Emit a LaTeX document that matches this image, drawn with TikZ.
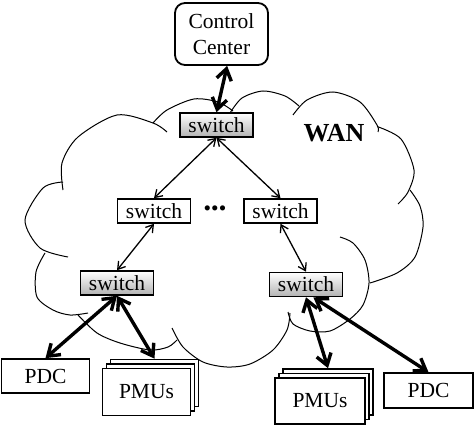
\documentclass[tikz,border=0pt]{standalone}
\usepackage{fontspec}
\setmainfont{Liberation Serif}
\usepackage{tikz}
\usetikzlibrary{arrows.meta,positioning,calc}
\tikzset{
  thinlink/.style={{Straight Barb[length=7pt,width=9pt]}-{Straight Barb[length=7pt,width=9pt]}, line width=1.3pt},
  thicklink/.style={{Straight Barb[length=11pt,width=15pt]}-{Straight Barb[length=11pt,width=15pt]}, line width=3.4pt},
  cloudline/.style={line width=1pt, draw=black},
  switchbox/.style={draw=black, line width=1.6pt, fill=white, inner sep=0pt,
    minimum width=73pt, minimum height=24pt, font=\fontsize{21.5}{24}\selectfont},
  coreswitch/.style={switchbox, top color=white, bottom color=black!30},
  endbox/.style={draw=black, line width=1.7pt, fill=white, inner sep=0pt,
    minimum width=88pt, minimum height=34pt, font=\fontsize{21.5}{24}\selectfont},
  pmubox/.style={endbox, minimum height=47pt},
  centerbox/.style={draw=black, line width=1.8pt, fill=white, rounded corners=10pt,
    align=center, inner sep=0pt, minimum width=93pt, minimum height=62pt,
    font=\fontsize{21.5}{26}\selectfont}
}

\begin{document}
\begin{tikzpicture}[x=1pt, y=-1pt]
    \useasboundingbox (0,0) rectangle (474,428);

    % WAN cloud
    \draw[cloudline] plot[smooth] coordinates {(153,123) (167,110) (194,99) (218,102) (233,111)};
    \draw[cloudline] plot[smooth] coordinates {(230,113) (242,98) (263,91) (285,96) (299,106)};
    \draw[cloudline] plot[smooth] coordinates {(293,115) (307,100) (333,92) (360,102) (377,125) (378,132)};
    \draw[cloudline] plot[smooth] coordinates {(377.6,126.7) (401,139) (414,170) (408,192) (398,204)};
    \draw[cloudline] plot[smooth] coordinates {(410,190) (420,206) (423,227) (415,257) (397,273) (370,283)};
    \draw[cloudline] plot[smooth] coordinates {(340,237) (353,243) (365,260) (369,283) (363,305) (350,319) (330,331) (310,331) (293,324) (288,312)};
    \draw[cloudline] plot[smooth] coordinates {(290,313) (287,330) (273,350) (250,364) (227,367) (203,362) (183,347) (172,328)};
    \draw[cloudline] plot[smooth] coordinates {(78,315) (97,333) (120,343) (150,350) (168,347) (177,340)};
    \draw[cloudline] plot[smooth] coordinates {(45,253) (36,272) (37,297) (53,310) (70,315) (88,313)};
    \draw[cloudline] plot[smooth] coordinates {(63,182) (43,188) (25,220) (40,248) (68,257)};
    \draw[cloudline] plot[smooth] coordinates {(63,190) (62,163) (78,137) (117,115) (153,123) (167,132)};

    \node[font=\fontsize{26}{28}\selectfont\bfseries] (wan) at (334,133) {WAN};

    % nodes
    \node[centerbox] (cc) at (221.5,34) {Control\\Center};
    \node[coreswitch] (sw0) at (216.5,125) {switch};
    \node[switchbox] (swl) at (154,211) {switch};
    \node[switchbox] (swr) at (280.5,211) {switch};
    \node[font=\fontsize{21.5}{24}\selectfont] (dots) at (215,211) {\textbullet\textbullet\textbullet};
    \node[coreswitch] (swbl) at (117,283) {switch};
    \node[coreswitch] (swbr) at (306,284.5) {switch};

    \node[endbox] (pdcl) at (45.5,376) {PDC};
    \node[pmubox] (pmulb) at (154.5,383) {};
    \node[pmubox] (pmulm) at (150.5,387.5) {};
    \node[pmubox] (pmul) at (146.5,392) {PMUs};
    \node[pmubox, minimum width=90pt, minimum height=46pt] (pmurb) at (328,392) {};
    \node[pmubox, minimum width=90pt, minimum height=46pt] (pmurm) at (324,396.5) {};
    \node[pmubox, minimum width=90pt, minimum height=46pt] (pmur) at (320,401) {PMUs};
    \node[endbox, minimum width=89pt, minimum height=35pt] (pdcr) at (428.5,390.5) {PDC};

    % links
    \draw[thicklink] (cc.-80) -- (sw0.north);
    \foreach \a/\b in {sw0.south/swl.north, sw0.south/swr.north, swl.south/swbl.north, swr.south/swbr.north}
        \draw[thinlink] (\a) -- (\b);
    \draw[thicklink] (swbl.south) -- (pdcl.north);
    \draw[thicklink] (swbl.south) -- (pmulb.north);
    \draw[thicklink] (swbr.south) -- (pmurb.north);
    \draw[thicklink] (swbr.-60) -- (pdcr.north);
\end{tikzpicture}
\end{document}
